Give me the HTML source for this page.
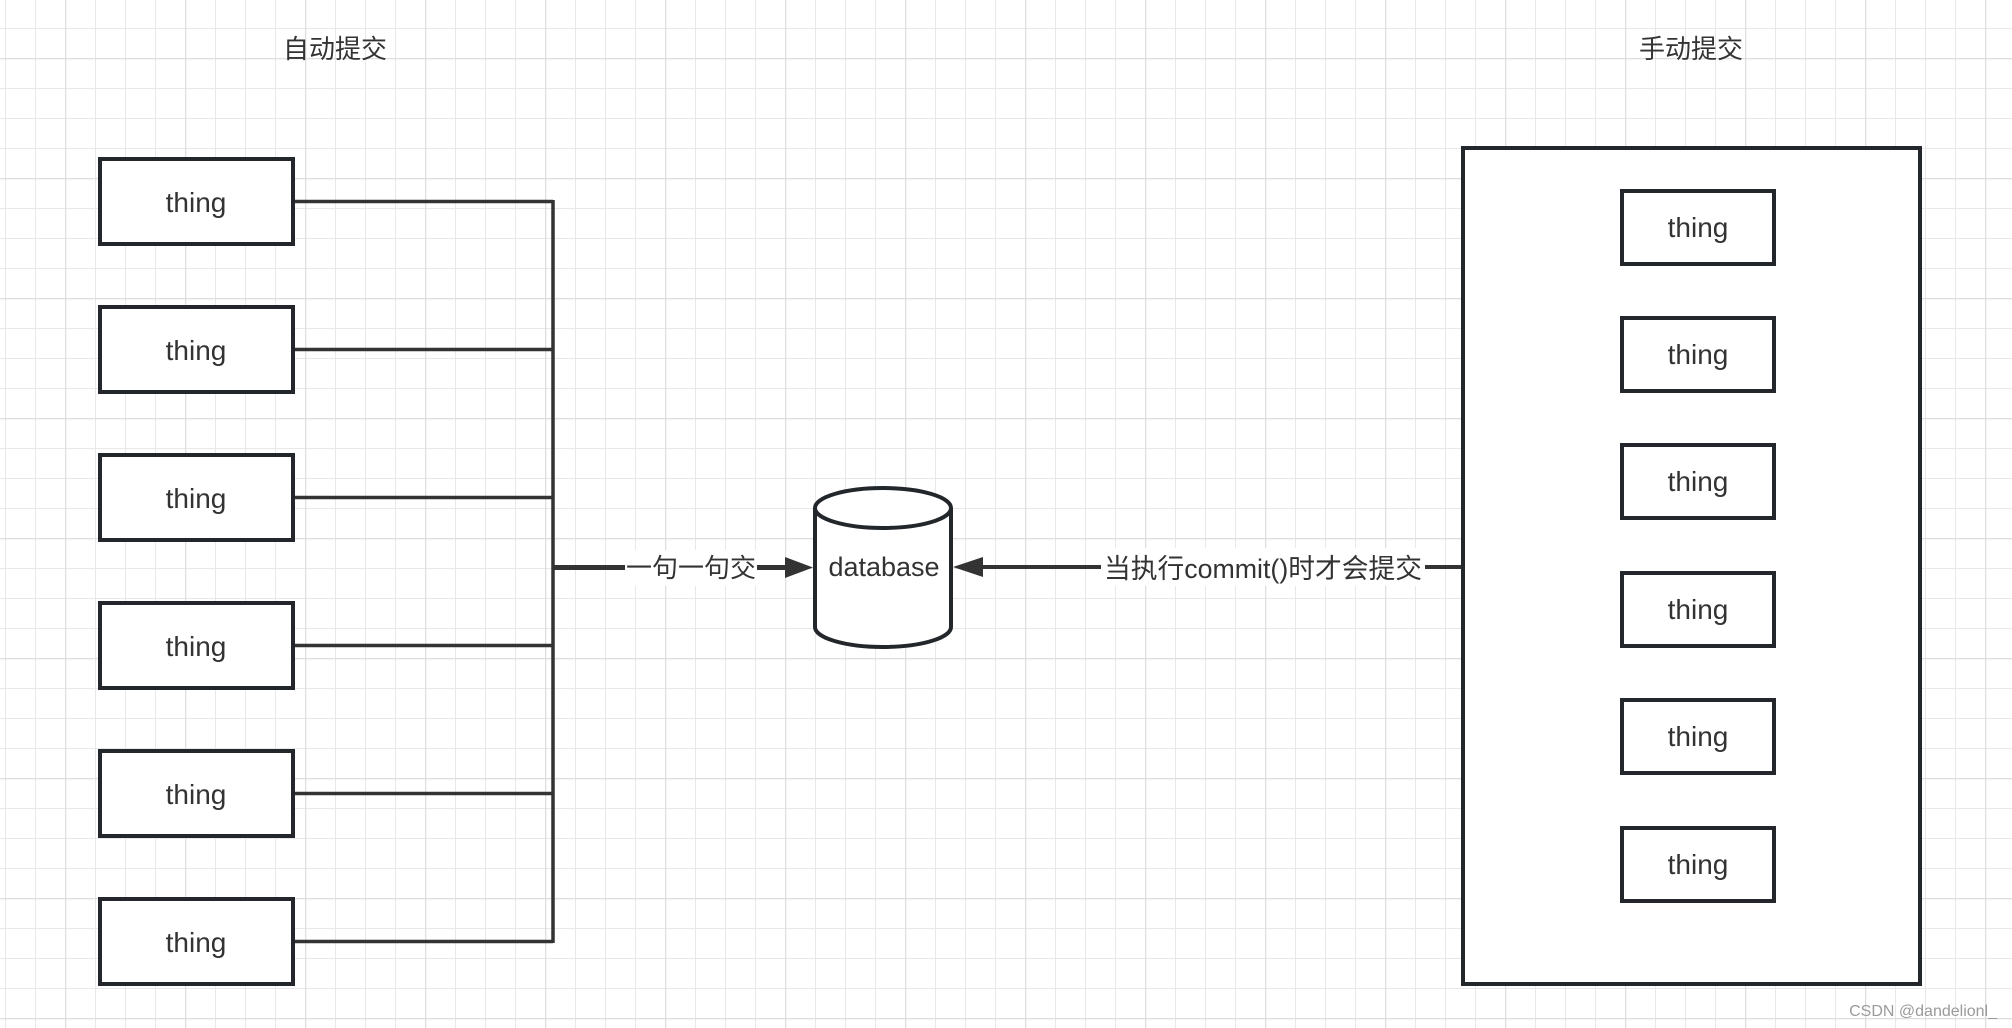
<!DOCTYPE html>
<html><head><meta charset="utf-8">
<style>
html,body{margin:0;padding:0;background:#fff;}
svg{display:block;}
text{font-family:"Liberation Sans","Noto Sans CJK SC",sans-serif;fill:#333;}
</style></head>
<body>
<svg width="2012" height="1028" viewBox="0 0 2012 1028" xmlns="http://www.w3.org/2000/svg">
<defs>
<pattern id="g" x="5" y="28" width="30" height="30" patternUnits="userSpaceOnUse">
<path d="M0 0H30M0 0V30" stroke="#e8e8e8" stroke-width="2" fill="none"/>
</pattern>
<pattern id="G" x="65" y="58" width="120" height="120" patternUnits="userSpaceOnUse">
<path d="M0 0H120M0 0V120" stroke="#dedede" stroke-width="2.5" fill="none"/>
</pattern>
</defs>
<rect width="2012" height="1028" fill="url(#g)"/>
<rect width="2012" height="1028" fill="url(#G)"/>

<text x="335" y="58" font-size="26" text-anchor="middle">自动提交</text>
<text x="1691" y="58" font-size="26" text-anchor="middle">手动提交</text>

<g stroke="#333" stroke-width="3.5" fill="none">
<path d="M293 201.5H553M293 349.5H553M293 497.5H553M293 645.5H553M293 793.5H553M293 941.5H553M553 200V943"/>
</g>
<g stroke="#23272b" stroke-width="4" fill="#fff">
<rect x="100" y="159" width="193" height="85"/>
<rect x="100" y="307" width="193" height="85"/>
<rect x="100" y="455" width="193" height="85"/>
<rect x="100" y="603" width="193" height="85"/>
<rect x="100" y="751" width="193" height="85"/>
<rect x="100" y="899" width="193" height="85"/>
</g>
<g font-size="28" text-anchor="middle">
<text x="196" y="212">thing</text>
<text x="196" y="360">thing</text>
<text x="196" y="508">thing</text>
<text x="196" y="656">thing</text>
<text x="196" y="804">thing</text>
<text x="196" y="952">thing</text>
</g>

<path d="M553 567.5H787" stroke="#333" stroke-width="5"/>
<path d="M813 567.5L785 557L785 578Z" fill="#333"/>
<rect x="625" y="550" width="132" height="36" fill="#fff"/>
<text x="691" y="577" font-size="26" text-anchor="middle">一句一句交</text>

<path d="M815 508V627A68 20 0 0 0 951 627V508" fill="#fff" stroke="#23272b" stroke-width="4"/>
<ellipse cx="883" cy="508" rx="68" ry="20" fill="#fff" stroke="#23272b" stroke-width="4"/>
<text x="884" y="576" font-size="27" text-anchor="middle">database</text>

<path d="M1463 567H979" stroke="#333" stroke-width="4"/>
<path d="M953 567L983 557L983 577Z" fill="#333"/>
<rect x="1101" y="548" width="324" height="38" fill="#fff"/>
<text x="1263" y="578" font-size="27" text-anchor="middle" textLength="318" lengthAdjust="spacingAndGlyphs">当执行commit()时才会提交</text>

<rect x="1463" y="148" width="457" height="836" fill="#fff" stroke="#23272b" stroke-width="4"/>
<g stroke="#23272b" stroke-width="4" fill="#fff">
<rect x="1622" y="191" width="152" height="73"/>
<rect x="1622" y="318" width="152" height="73"/>
<rect x="1622" y="445" width="152" height="73"/>
<rect x="1622" y="573" width="152" height="73"/>
<rect x="1622" y="700" width="152" height="73"/>
<rect x="1622" y="828" width="152" height="73"/>
</g>
<g font-size="28" text-anchor="middle">
<text x="1698" y="237">thing</text>
<text x="1698" y="364">thing</text>
<text x="1698" y="491">thing</text>
<text x="1698" y="619">thing</text>
<text x="1698" y="746">thing</text>
<text x="1698" y="874">thing</text>
</g>

<text x="1997" y="1016" font-size="16" text-anchor="end" style="fill:#9a9a9a">CSDN @dandelionl_</text>
</svg>
</body></html>
